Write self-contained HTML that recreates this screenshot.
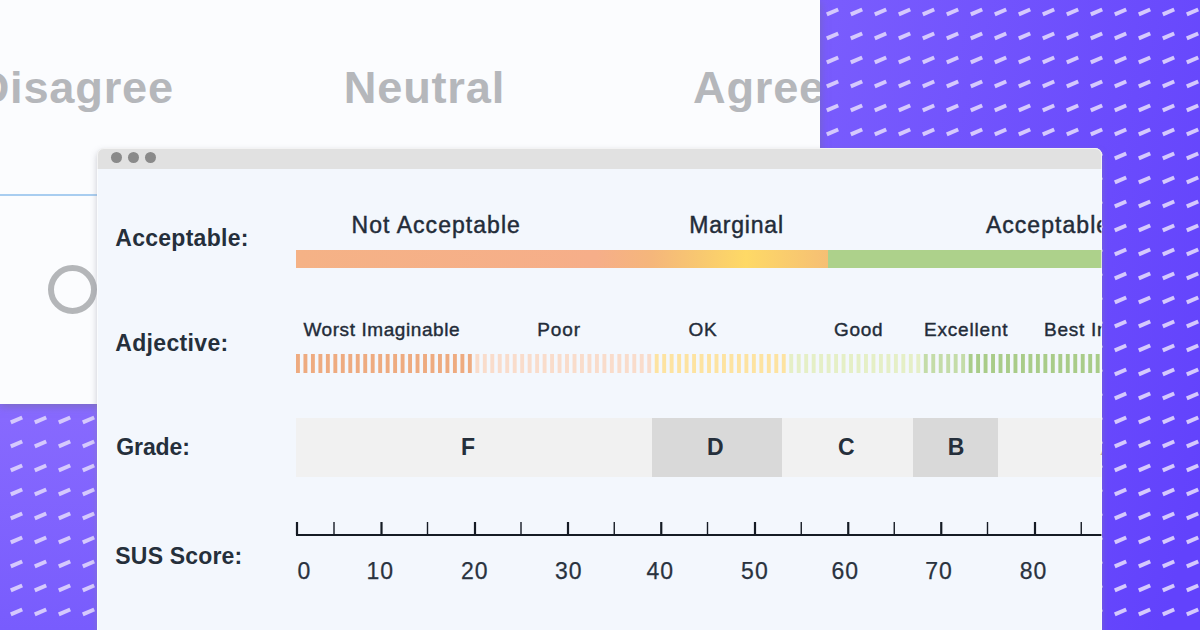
<!DOCTYPE html>
<html><head><meta charset="utf-8">
<style>
*{margin:0;padding:0;box-sizing:border-box}
html,body{width:1200px;height:630px;overflow:hidden;background:#fbfcfe;font-family:"Liberation Sans",sans-serif}
.abs{position:absolute;white-space:nowrap;line-height:1}
.bgw{font-weight:bold;font-size:45.3px;letter-spacing:1.1px;color:#b5b7bb;top:65px}
#deco{position:absolute;left:0;top:0}
.win{position:absolute;left:97px;top:148px;width:1005px;height:500px;background:#f3f7fd;border-radius:7px 7px 0 0;overflow:hidden;box-shadow:0 3px 6px rgba(140,140,150,.45)}
.tb{position:absolute;left:0;top:0;width:100%;height:21px;background:#e1e1e1}
.dot{position:absolute;top:4px;width:11px;height:11px;border-radius:50%;background:#8a8a8a}
.lbl{font-weight:bold;font-size:23.3px;letter-spacing:.15px;color:#252f3b}
.top{color:#232c39;-webkit-text-stroke:.45px #232c39}
.adj{color:#232c39;-webkit-text-stroke:.4px #232c39}
.gr{font-weight:bold;font-size:23.3px;color:#252f3b;top:435.6px}
.num{color:#29323e;-webkit-text-stroke:.25px #29323e}
</style></head><body>
<svg id="deco" width="1200" height="630" viewBox="0 0 1200 630">
<defs>
<linearGradient id="pg" gradientUnits="userSpaceOnUse" x1="820" y1="0" x2="1297" y2="127">
<stop offset="0" stop-color="#7a5dfd"/><stop offset="1" stop-color="#6242fc"/>
</linearGradient>
<linearGradient id="pg2" gradientUnits="userSpaceOnUse" x1="0" y1="403" x2="0" y2="630">
<stop offset="0" stop-color="#886afe"/><stop offset="1" stop-color="#785cfd"/>
</linearGradient>
<pattern id="dash" patternUnits="userSpaceOnUse" x="0" y="0" width="24" height="24">
<rect x="10.3" y="9.9" width="12.4" height="4" fill="#d5c9fd" transform="rotate(-23 16.5 11.9)"/>
</pattern>
</defs>
<rect x="810" y="0" width="390" height="630" fill="url(#pg)"/>
<rect x="0" y="395" width="110" height="235" fill="url(#pg2)"/>
<rect x="810" y="0" width="390" height="630" fill="url(#dash)"/>
<rect x="0" y="395" width="110" height="235" fill="url(#dash)"/>
</svg>
<div id="card" style="position:absolute;left:0;top:0;width:820px;height:403.5px;background:#fbfcfe;overflow:hidden;box-shadow:0 2px 8px rgba(110,110,130,.5)">
<div class="abs bgw" style="left:-23.3px;top:65.3px;font-size:45.2px;letter-spacing:0.78px">Disagree</div>
<div class="abs bgw" style="left:343.8px;top:65.3px;font-size:45.2px;letter-spacing:0.783px">Neutral</div>
<div class="abs bgw" style="left:693.0px;top:65.3px;font-size:45.2px;letter-spacing:0.78px">Agree</div>
<div class="abs" style="left:0;top:194px;width:120px;height:2px;background:#a8cdf0"></div>
<div class="abs" style="left:48px;top:265px;width:49px;height:49px;border-radius:50%;border:6px solid #b4b6b9"></div>

</div>


<div class="win">
<div class="tb"><div class="dot" style="left:13.5px"></div><div class="dot" style="left:30.5px"></div><div class="dot" style="left:47.5px"></div></div>
</div>
<div id="content" style="position:absolute;left:0;top:0;width:1102px;height:630px;overflow:hidden">

<div class="abs" style="left:296px;top:250px;width:806px;height:18px;background:linear-gradient(90deg,#f5b286 0px,#f6ae89 300px,#f5b67b 355px,#f8c870 404px,#fed966 450px,#f9cb6e 494px,#f6bf74 532px,#add18b 532px,#add18b 806px)"></div>

<div id="stripes" class="abs" style="left:296px;top:354px;width:806px;height:19px"><svg width="806" height="19" style="position:absolute;left:0;top:0"><rect x="0.00" y="0" width="3.9" height="19" fill="#eeab80"/><rect x="7.47" y="0" width="3.9" height="19" fill="#eeab80"/><rect x="14.95" y="0" width="3.9" height="19" fill="#eeab80"/><rect x="22.42" y="0" width="3.9" height="19" fill="#eeab80"/><rect x="29.90" y="0" width="3.9" height="19" fill="#eeab80"/><rect x="37.37" y="0" width="3.9" height="19" fill="#eeab80"/><rect x="44.84" y="0" width="3.9" height="19" fill="#eeab80"/><rect x="52.32" y="0" width="3.9" height="19" fill="#eeab80"/><rect x="59.79" y="0" width="3.9" height="19" fill="#eeab80"/><rect x="67.27" y="0" width="3.9" height="19" fill="#eeab80"/><rect x="74.74" y="0" width="3.9" height="19" fill="#eeab80"/><rect x="82.21" y="0" width="3.9" height="19" fill="#eeab80"/><rect x="89.69" y="0" width="3.9" height="19" fill="#eeab80"/><rect x="97.16" y="0" width="3.9" height="19" fill="#eeab80"/><rect x="104.64" y="0" width="3.9" height="19" fill="#eeab80"/><rect x="112.11" y="0" width="3.9" height="19" fill="#eeab80"/><rect x="119.58" y="0" width="3.9" height="19" fill="#eeab80"/><rect x="127.06" y="0" width="3.9" height="19" fill="#eeab80"/><rect x="134.53" y="0" width="3.9" height="19" fill="#eeab80"/><rect x="142.01" y="0" width="3.9" height="19" fill="#eeab80"/><rect x="149.48" y="0" width="3.9" height="19" fill="#eeab80"/><rect x="156.95" y="0" width="3.9" height="19" fill="#eeab80"/><rect x="164.43" y="0" width="3.9" height="19" fill="#eeab80"/><rect x="171.90" y="0" width="3.9" height="19" fill="#eeab80"/><rect x="179.38" y="0" width="3.9" height="19" fill="#f9dccb"/><rect x="186.85" y="0" width="3.9" height="19" fill="#f9dccb"/><rect x="194.32" y="0" width="3.9" height="19" fill="#f9dccb"/><rect x="201.80" y="0" width="3.9" height="19" fill="#f9dccb"/><rect x="209.27" y="0" width="3.9" height="19" fill="#f9dccb"/><rect x="216.75" y="0" width="3.9" height="19" fill="#f9dccb"/><rect x="224.22" y="0" width="3.9" height="19" fill="#f9dccb"/><rect x="231.69" y="0" width="3.9" height="19" fill="#f9dccb"/><rect x="239.17" y="0" width="3.9" height="19" fill="#f9dccb"/><rect x="246.64" y="0" width="3.9" height="19" fill="#f9dccb"/><rect x="254.12" y="0" width="3.9" height="19" fill="#f9dccb"/><rect x="261.59" y="0" width="3.9" height="19" fill="#f9dccb"/><rect x="269.06" y="0" width="3.9" height="19" fill="#f9dccb"/><rect x="276.54" y="0" width="3.9" height="19" fill="#f9dccb"/><rect x="284.01" y="0" width="3.9" height="19" fill="#f9dccb"/><rect x="291.49" y="0" width="3.9" height="19" fill="#f9dccb"/><rect x="298.96" y="0" width="3.9" height="19" fill="#f9dccb"/><rect x="306.43" y="0" width="3.9" height="19" fill="#f9dccb"/><rect x="313.91" y="0" width="3.9" height="19" fill="#f9dccb"/><rect x="321.38" y="0" width="3.9" height="19" fill="#f9dccb"/><rect x="328.86" y="0" width="3.9" height="19" fill="#f9dccb"/><rect x="336.33" y="0" width="3.9" height="19" fill="#f9dccb"/><rect x="343.80" y="0" width="3.9" height="19" fill="#f9dccb"/><rect x="351.28" y="0" width="3.9" height="19" fill="#f9dccb"/><rect x="358.75" y="0" width="3.9" height="19" fill="#fde3a1"/><rect x="366.23" y="0" width="3.9" height="19" fill="#fde3a1"/><rect x="373.70" y="0" width="3.9" height="19" fill="#fde3a1"/><rect x="381.17" y="0" width="3.9" height="19" fill="#fde3a1"/><rect x="388.65" y="0" width="3.9" height="19" fill="#fde3a1"/><rect x="396.12" y="0" width="3.9" height="19" fill="#fde3a1"/><rect x="403.60" y="0" width="3.9" height="19" fill="#fde3a1"/><rect x="411.07" y="0" width="3.9" height="19" fill="#fde3a1"/><rect x="418.54" y="0" width="3.9" height="19" fill="#fde3a1"/><rect x="426.02" y="0" width="3.9" height="19" fill="#fde3a1"/><rect x="433.49" y="0" width="3.9" height="19" fill="#fde3a1"/><rect x="440.97" y="0" width="3.9" height="19" fill="#fde3a1"/><rect x="448.44" y="0" width="3.9" height="19" fill="#fde3a1"/><rect x="455.91" y="0" width="3.9" height="19" fill="#fde3a1"/><rect x="463.39" y="0" width="3.9" height="19" fill="#fde3a1"/><rect x="470.86" y="0" width="3.9" height="19" fill="#fde3a1"/><rect x="478.34" y="0" width="3.9" height="19" fill="#fde3a1"/><rect x="485.81" y="0" width="3.9" height="19" fill="#fde3a1"/><rect x="493.28" y="0" width="3.9" height="19" fill="#e5efc6"/><rect x="500.76" y="0" width="3.9" height="19" fill="#e5efc6"/><rect x="508.23" y="0" width="3.9" height="19" fill="#e5efc6"/><rect x="515.71" y="0" width="3.9" height="19" fill="#e5efc6"/><rect x="523.18" y="0" width="3.9" height="19" fill="#e5efc6"/><rect x="530.65" y="0" width="3.9" height="19" fill="#e5efc6"/><rect x="538.13" y="0" width="3.9" height="19" fill="#e5efc6"/><rect x="545.60" y="0" width="3.9" height="19" fill="#e5efc6"/><rect x="553.08" y="0" width="3.9" height="19" fill="#e5efc6"/><rect x="560.55" y="0" width="3.9" height="19" fill="#e5efc6"/><rect x="568.02" y="0" width="3.9" height="19" fill="#e5efc6"/><rect x="575.50" y="0" width="3.9" height="19" fill="#e5efc6"/><rect x="582.97" y="0" width="3.9" height="19" fill="#e5efc6"/><rect x="590.45" y="0" width="3.9" height="19" fill="#e5efc6"/><rect x="597.92" y="0" width="3.9" height="19" fill="#e5efc6"/><rect x="605.39" y="0" width="3.9" height="19" fill="#e5efc6"/><rect x="612.87" y="0" width="3.9" height="19" fill="#e5efc6"/><rect x="620.34" y="0" width="3.9" height="19" fill="#e5efc6"/><rect x="627.82" y="0" width="3.9" height="19" fill="#c4dca8"/><rect x="635.29" y="0" width="3.9" height="19" fill="#c4dca8"/><rect x="642.76" y="0" width="3.9" height="19" fill="#c4dca8"/><rect x="650.24" y="0" width="3.9" height="19" fill="#c4dca8"/><rect x="657.71" y="0" width="3.9" height="19" fill="#c4dca8"/><rect x="665.19" y="0" width="3.9" height="19" fill="#c4dca8"/><rect x="672.66" y="0" width="3.9" height="19" fill="#a9cc89"/><rect x="680.13" y="0" width="3.9" height="19" fill="#a9cc89"/><rect x="687.61" y="0" width="3.9" height="19" fill="#a9cc89"/><rect x="695.08" y="0" width="3.9" height="19" fill="#a9cc89"/><rect x="702.56" y="0" width="3.9" height="19" fill="#a9cc89"/><rect x="710.03" y="0" width="3.9" height="19" fill="#a9cc89"/><rect x="717.50" y="0" width="3.9" height="19" fill="#a9cc89"/><rect x="724.98" y="0" width="3.9" height="19" fill="#a9cc89"/><rect x="732.45" y="0" width="3.9" height="19" fill="#a9cc89"/><rect x="739.93" y="0" width="3.9" height="19" fill="#a9cc89"/><rect x="747.40" y="0" width="3.9" height="19" fill="#a9cc89"/><rect x="754.87" y="0" width="3.9" height="19" fill="#a9cc89"/><rect x="762.35" y="0" width="3.9" height="19" fill="#a9cc89"/><rect x="769.82" y="0" width="3.9" height="19" fill="#a9cc89"/><rect x="777.30" y="0" width="3.9" height="19" fill="#a9cc89"/><rect x="784.77" y="0" width="3.9" height="19" fill="#a9cc89"/><rect x="792.24" y="0" width="3.9" height="19" fill="#a9cc89"/><rect x="799.72" y="0" width="3.9" height="19" fill="#a9cc89"/></svg></div>

<div class="abs" style="left:296px;top:418px;width:806px;height:59px;background:#f1f1f1"></div>
<div class="abs" style="left:651.9px;top:418px;width:129.8px;height:59px;background:#d9d9d9"></div>
<div class="abs" style="left:913px;top:418px;width:85.2px;height:59px;background:#d9d9d9"></div>

<div class="abs" style="left:296px;top:534px;width:806px;height:2px;background:#151b24"></div>
<svg width="1102" height="630" style="position:absolute;left:0;top:0"><rect x="295.90" y="522" width="2.2" height="13" fill="#151b24"/><rect x="380.40" y="522" width="2.2" height="13" fill="#151b24"/><rect x="473.90" y="522" width="2.2" height="13" fill="#151b24"/><rect x="566.90" y="522" width="2.2" height="13" fill="#151b24"/><rect x="660.15" y="522" width="2.2" height="13" fill="#151b24"/><rect x="753.90" y="522" width="2.2" height="13" fill="#151b24"/><rect x="847.15" y="522" width="2.2" height="13" fill="#151b24"/><rect x="940.15" y="522" width="2.2" height="13" fill="#151b24"/><rect x="1033.90" y="522" width="2.2" height="13" fill="#151b24"/><rect x="333.30" y="522" width="1.4" height="13" fill="#151b24"/><rect x="426.80" y="522" width="1.4" height="13" fill="#151b24"/><rect x="520.30" y="522" width="1.4" height="13" fill="#151b24"/><rect x="613.55" y="522" width="1.4" height="13" fill="#151b24"/><rect x="706.80" y="522" width="1.4" height="13" fill="#151b24"/><rect x="800.55" y="522" width="1.4" height="13" fill="#151b24"/><rect x="893.55" y="522" width="1.4" height="13" fill="#151b24"/><rect x="986.80" y="522" width="1.4" height="13" fill="#151b24"/><rect x="1080.55" y="522" width="1.4" height="13" fill="#151b24"/></svg>
<div class="abs lbl" style="left:115.3px;top:226.8px;font-size:23.0px;letter-spacing:0.27px">Acceptable:</div>
<div class="abs lbl" style="left:115.3px;top:331.7px;font-size:23.0px;letter-spacing:0.333px">Adjective:</div>
<div class="abs lbl" style="left:116.3px;top:436.0px;font-size:23.0px;letter-spacing:-0.12px">Grade:</div>
<div class="abs lbl" style="left:115.3px;top:544.7px;font-size:23.0px;letter-spacing:0.189px">SUS Score:</div>
<div class="abs top" style="left:351.6px;top:213.9px;font-size:23.0px;letter-spacing:1.046px">Not Acceptable</div>
<div class="abs top" style="left:689.2px;top:214.1px;font-size:23.0px;letter-spacing:0.8px">Marginal</div>
<div class="abs top" style="left:985.9px;top:213.9px;font-size:23.0px;letter-spacing:1.046px">Acceptable</div>
<div class="abs adj" style="left:303.4px;top:319.6px;font-size:19.0px;letter-spacing:0.58px">Worst Imaginable</div>
<div class="abs adj" style="left:537.25px;top:319.6px;font-size:19.0px;letter-spacing:0.917px">Poor</div>
<div class="abs adj" style="left:688.5px;top:319.6px;font-size:19.0px;letter-spacing:0.75px">OK</div>
<div class="abs adj" style="left:834.0px;top:319.6px;font-size:19.0px;letter-spacing:0.667px">Good</div>
<div class="abs adj" style="left:924.0px;top:319.6px;font-size:19.0px;letter-spacing:0.812px">Excellent</div>
<div class="abs adj" style="left:1044.0px;top:319.6px;font-size:19.0px;letter-spacing:0.75px">Best Imaginable</div>
<div class="abs gr" style="left:461.0px;top:436.3px;font-size:23.0px;letter-spacing:0.0px">F</div>
<div class="abs gr" style="left:707.1px;top:436.3px;font-size:23.0px;letter-spacing:0.0px">D</div>
<div class="abs gr" style="left:838.0px;top:436.3px;font-size:23.0px;letter-spacing:0.0px">C</div>
<div class="abs gr" style="left:947.7px;top:436.3px;font-size:23.0px;letter-spacing:0.0px">B</div>
<div class="abs gr" style="left:1100.2px;top:436.3px;font-size:23.0px;letter-spacing:0.0px">A</div>
<div class="abs num" style="left:297.4px;top:560.4px;font-size:23.0px;letter-spacing:0.0px">0</div>
<div class="abs num" style="left:366.5px;top:560.4px;font-size:23.0px;letter-spacing:1.0px">10</div>
<div class="abs num" style="left:460.88px;top:560.4px;font-size:23.0px;letter-spacing:1.0px">20</div>
<div class="abs num" style="left:555.0px;top:560.4px;font-size:23.0px;letter-spacing:1.0px">30</div>
<div class="abs num" style="left:646.38px;top:560.4px;font-size:23.0px;letter-spacing:1.0px">40</div>
<div class="abs num" style="left:741.12px;top:560.4px;font-size:23.0px;letter-spacing:1.0px">50</div>
<div class="abs num" style="left:831.5px;top:560.4px;font-size:23.0px;letter-spacing:1.0px">60</div>
<div class="abs num" style="left:925.25px;top:560.4px;font-size:23.0px;letter-spacing:1.0px">70</div>
<div class="abs num" style="left:1019.7px;top:560.4px;font-size:23.0px;letter-spacing:1.0px">80</div>
</div>
<div style="position:absolute;left:97px;top:148px;width:1005px;height:500px;border:1px solid rgba(255,255,255,.6);border-radius:7px 7px 0 0"></div>
</body></html>
